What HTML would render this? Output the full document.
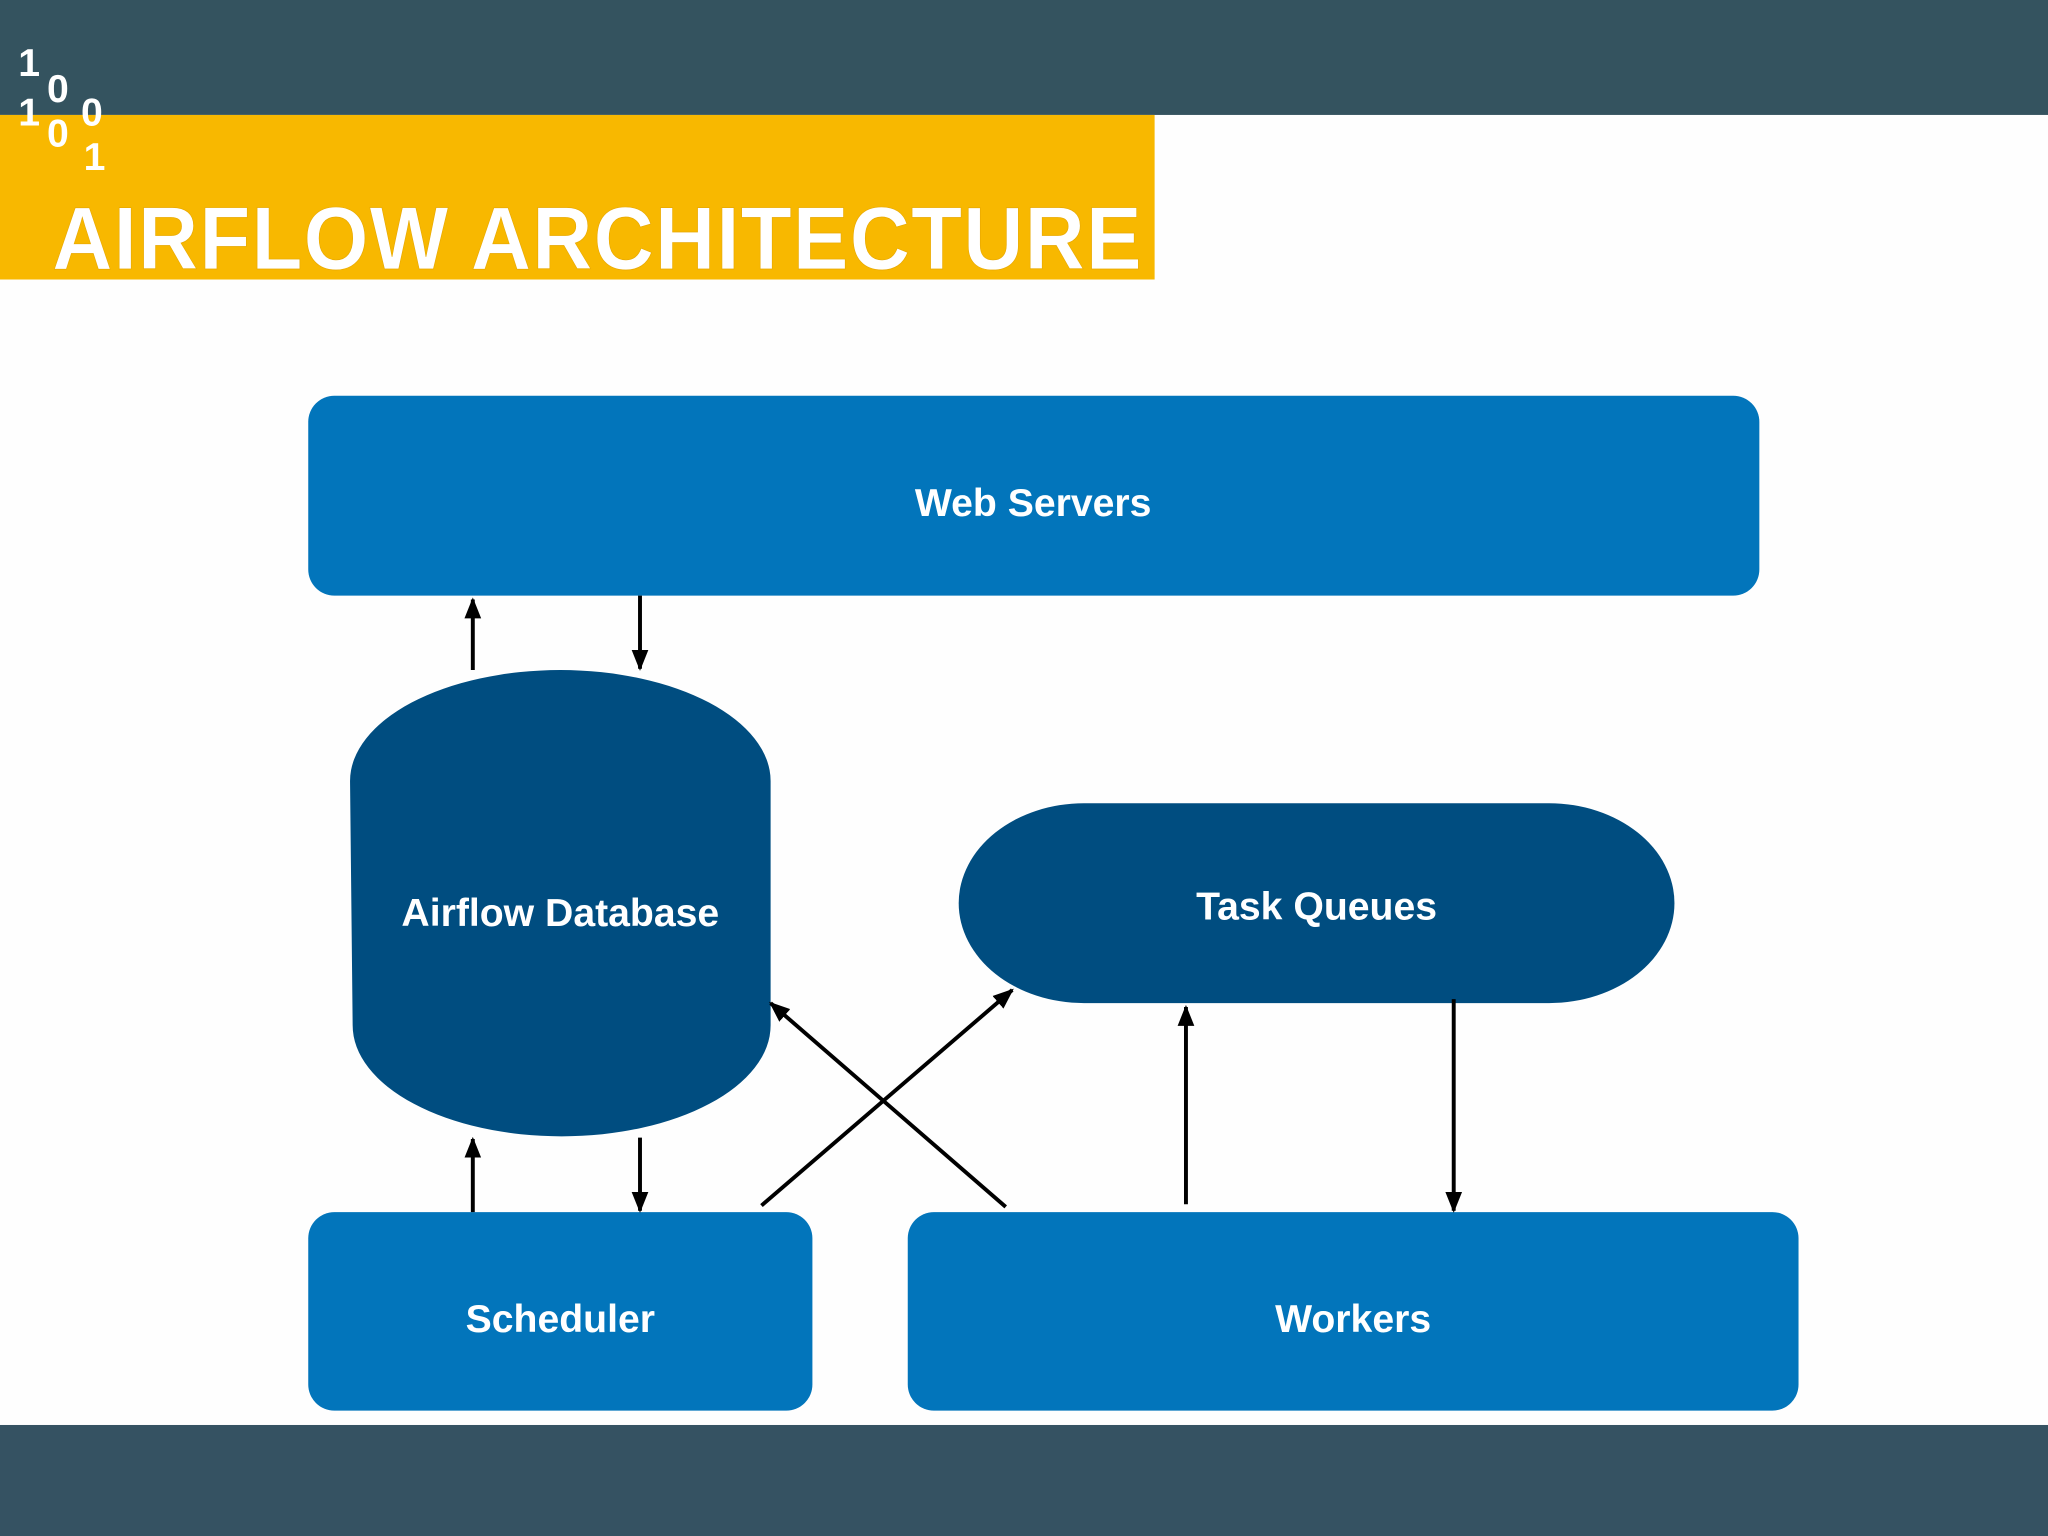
<!DOCTYPE html>
<html><head><meta charset="utf-8"><style>
html,body{margin:0;padding:0;background:#fff;}
svg{display:block;}
text{font-family:"Liberation Sans",sans-serif;font-weight:bold;fill:#fff;}
</style></head><body>
<svg width="2048" height="1536" viewBox="0 0 1568 1176" xmlns="http://www.w3.org/2000/svg">
<defs>
<marker id="a" viewBox="0 0 10 10" refX="9" refY="5" markerWidth="16" markerHeight="16" orient="auto" markerUnits="userSpaceOnUse">
<path d="M0,1 L10,5 L0,9 z" fill="#000"/>
</marker>
</defs>
<rect x="0" y="0" width="1568" height="1176" fill="#fefefe"/>
<rect x="0" y="0" width="1568" height="88" fill="#34535f"/>
<rect x="0" y="88" width="884" height="126" fill="#f8b800"/>
<rect x="0" y="1091" width="1568" height="85" fill="#355262"/>
<g style="font-size:30px">
<text x="14" y="58">1</text>
<text x="36" y="78">0</text>
<text x="14" y="96">1</text>
<text x="62" y="96">0</text>
<text x="36" y="112">0</text>
<text x="64" y="130">1</text>
</g>
<text x="40" y="206" style="font-size:68px;letter-spacing:1px" textLength="835" lengthAdjust="spacingAndGlyphs" stroke="#e8a800" stroke-width="0.5">AIRFLOW ARCHITECTURE</text>

<rect x="236" y="303" width="1111" height="153" rx="20" fill="#0275bb"/>
<text x="791" y="395" text-anchor="middle" style="font-size:30px">Web Servers</text>

<path d="M268,598 A161,85 0 0 1 590,598 L590,785 A160,85 0 0 1 270,785 Z" fill="#004d80"/>
<text x="429" y="709" text-anchor="middle" style="font-size:30px">Airflow Database</text>

<path d="M830,615 L1186,615 A96,76.5 0 0 1 1186,768 L830,768 A96,76.5 0 0 1 830,615 Z" fill="#004d80"/>
<text x="1008" y="704" text-anchor="middle" style="font-size:30px">Task Queues</text>

<rect x="236" y="928" width="386" height="152" rx="20" fill="#0275bb"/>
<text x="429" y="1020" text-anchor="middle" style="font-size:30px">Scheduler</text>

<rect x="695" y="928" width="682" height="152" rx="20" fill="#0275bb"/>
<text x="1036" y="1020" text-anchor="middle" style="font-size:30px">Workers</text>

<g stroke="#000" stroke-width="3" fill="none">
<line x1="362" y1="513" x2="362" y2="459" marker-end="url(#a)"/>
<line x1="490" y1="456" x2="490" y2="512" marker-end="url(#a)"/>
<line x1="362" y1="928" x2="362" y2="872" marker-end="url(#a)"/>
<line x1="490" y1="871" x2="490" y2="927" marker-end="url(#a)"/>
<line x1="583" y1="923" x2="775" y2="758" marker-end="url(#a)"/>
<line x1="770" y1="924" x2="590" y2="768" marker-end="url(#a)"/>
<line x1="908" y1="922" x2="908" y2="771" marker-end="url(#a)"/>
<line x1="1113" y1="765" x2="1113" y2="927" marker-end="url(#a)"/>
</g>
</svg>
</body></html>
